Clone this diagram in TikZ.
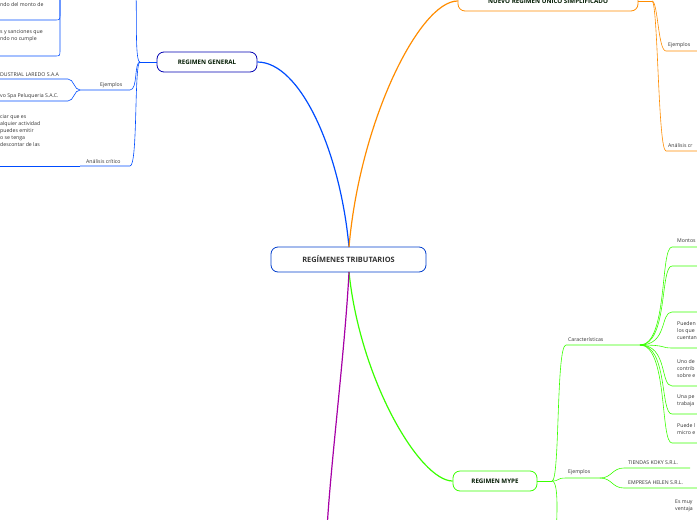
\documentclass[tikz,border=0pt]{standalone}
\usepackage{fontspec}
\setmainfont{Open Sans}
\begin{document}
\begin{tikzpicture}[x=1pt,y=-1pt,
  txt/.style={font=\fontsize{5.2}{7}\selectfont,text=black!80,inner sep=0pt,align=left},
  main/.style={draw,rounded corners=7pt,line width=0.8pt,font=\bfseries\fontsize{6.2}{7}\selectfont,text=black!75!green!40!black,inner sep=0pt},
  bl/.style={draw=blue!70!cyan,line width=0.6pt},
  og/.style={draw=orange!90!yellow,line width=0.6pt},
  gr/.style={draw=green!70!lime,line width=0.6pt}]
\useasboundingbox (0,0) rectangle (697,520);
\clip (0,0) rectangle (697,520);
% center
\node[main,draw=blue!70!cyan!80!black,minimum width=155pt,minimum height=25pt,font=\bfseries\fontsize{7.4}{8}\selectfont,text=black!80] (c) at (348.5,259.5) {REGÍMENES TRIBUTARIOS};
\node[main,draw=blue!70!black,minimum width=100pt,minimum height=20pt] (g) at (207,62) {REGIMEN GENERAL};
\node[main,draw=orange!90!yellow,minimum width=180pt,minimum height=20pt] (n) at (548,1) {NUEVO REGIMEN ÚNICO SIMPLIFICADO};
\node[main,draw=green!70!lime,minimum width=84pt,minimum height=20pt] (m) at (495,481) {REGIMEN MYPE};
\coordinate (ct) at (349,247); \coordinate (cb) at (349,272);
\draw[line width=1.2pt,blue!70!cyan] (ct) .. controls (340,150) and (300,62) .. (g.east);
\draw[line width=1.2pt,orange!90!yellow] (ct) .. controls (360,120) and (420,1) .. (n.west);
\draw[line width=1.2pt,green!70!lime] (cb) .. controls (360,380) and (420,481) .. (m.west);
\draw[line width=1.2pt,violet!70!magenta] (cb) .. controls (345,350) and (330,470) .. (327,530);
% general children
\coordinate (gw) at (140,62);
\draw[bl] (g.west) -- (gw);
\coordinate (ej1) at (80,90); \coordinate (an1) at (80,166);
\draw[bl] (gw) .. controls (134,62) and (138,0) .. (135,-20);
\draw[bl] (gw) .. controls (134,62) and (138,90) .. (130,90) -- (ej1);
\draw[bl] (gw) .. controls (134,62) and (138,166) .. (130,166) -- (an1);
\node[txt,anchor=south west] (ej1t) at (100,88) {Ejemplos};
\node[txt,anchor=south west] (an1t) at (86,164) {Análisis crítico};
\draw[bl] (60,-20) -- (60,14) .. controls (60,20) .. (55,20) -- (0,20);
\draw[bl] (60,-20) -- (60,50) .. controls (60,56) .. (55,56) -- (0,56);
\node[txt,anchor=south west] (t1) at (0,7) {ndo del monto de};
\node[txt,anchor=north west] (t2) at (0,29) {s y sanciones que\\ndo no cumple};
\draw[bl] (ej1) .. controls (74,90) and (74,79) .. (68,79) -- (0,79);
\draw[bl] (ej1) .. controls (74,90) and (74,101) .. (68,101) -- (0,101);
\node[txt,anchor=south west] (e1) at (0,77) {DUSTRIAL LAREDO S.A.A};
\node[txt,anchor=south west] (e2) at (0,99) {vo Spa Peluqueria S.A.C.};
\draw[bl] (an1) -- (0,166);
\node[txt,anchor=north west] (a1) at (0,114) {ciar que es\\
alquier actividad\\
puedes emitir\\
o se tenga\\
descontar de las};
% nuevo children
\coordinate (nr) at (652,1);
\draw[og] (n.east) -- (nr);
\draw[og] (nr) .. controls (658,1) and (658,51) .. (666,51) -- (700,51);
\draw[og] (nr) .. controls (658,1) and (658,151) .. (666,151) -- (700,151);
\node[txt,anchor=south west] (nej) at (668,48) {Ejemplos};
\node[txt,anchor=south west] (nan) at (668,148) {Análisis cr};
% mype children
\coordinate (mr) at (552,481);
\draw[gr] (m.east) -- (mr);
\coordinate (car) at (640,345); \coordinate (mej) at (600,478);
\draw[gr] (mr) .. controls (560,481) and (556,345) .. (566,345) -- (car);
\draw[gr] (mr) .. controls (560,481) and (556,478) .. (566,478) -- (mej);
\draw[gr] (mr) .. controls (560,481) and (556,530) .. (556,540);
\node[txt,anchor=south west] (cart) at (568,342) {Características};
\node[txt,anchor=south west] (mejt) at (568,475) {Ejemplos};
\foreach \y in {247,266,312,348,386,414,443}{
  \draw[gr] (car) .. controls (668,345) and (660,\y) .. (672,\y) -- (700,\y);}
\node[txt,anchor=south west] at (677,243) {Montos};
\node[txt,anchor=north west] at (677,321) {Pueden\\los que\\cuentan};
\node[txt,anchor=north west] at (677,359) {Uno de\\contrib\\sobre e};
\node[txt,anchor=north west] at (677,395) {Una pe\\trabaja};
\node[txt,anchor=north west] at (677,423) {Puede l\\micro e};
\draw[gr] (mej) .. controls (612,478) and (612,468) .. (624,468) -- (690,468);
\draw[gr] (mej) .. controls (612,478) and (612,488) .. (624,488) -- (697,488);
\node[txt,anchor=south west] (k1) at (628,465) {TIENDAS KOKY S.R.L.};
\node[txt,anchor=south west] (k2) at (628,485) {EMPRESA HELEN S.R.L.};
\node[txt,anchor=north west] at (675,500) {Es muy\\ventaja};
\end{tikzpicture}
\end{document}
